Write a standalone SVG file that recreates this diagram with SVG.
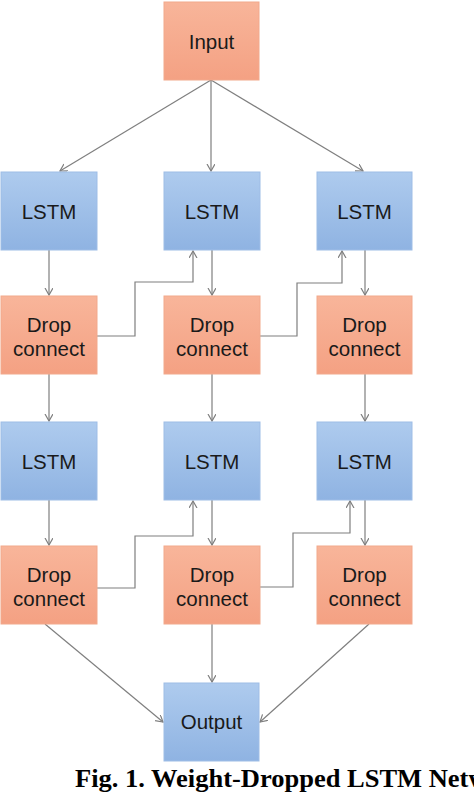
<svg xmlns="http://www.w3.org/2000/svg" width="474" height="792" viewBox="0 0 474 792">
<defs>
<linearGradient id="gO" x1="0" y1="0" x2="0" y2="1"><stop offset="0" stop-color="#f8b59a"/><stop offset="1" stop-color="#f4a183"/></linearGradient>
<linearGradient id="gB" x1="0" y1="0" x2="0" y2="1"><stop offset="0" stop-color="#aecbee"/><stop offset="1" stop-color="#8fb3e2"/></linearGradient>
<marker id="ah" markerWidth="10" markerHeight="10" refX="7" refY="4" orient="auto" markerUnits="userSpaceOnUse"><path d="M0,0 L7,4 L0,8" fill="none" stroke="#7f7f7f" stroke-width="1.2"/></marker>
</defs>
<style>
.o{fill:url(#gO);stroke:#f2a98c;stroke-width:1}
.b{fill:url(#gB);stroke:#9ebde6;stroke-width:1}
.t{font-family:"Liberation Sans",Arial,sans-serif;font-size:20.5px;fill:#1a1a1a;text-anchor:middle}
.c{fill:none;stroke:#7f7f7f;stroke-width:1.2}
.a{marker-end:url(#ah)}
.cap{font-family:"Liberation Serif","Times New Roman",serif;font-size:25px;font-weight:bold;fill:#000}
</style>
<rect width="474" height="792" fill="#ffffff"/>
<g id="connectors">
<line class="c a" x1="211" y1="80" x2="60" y2="171"/>
<line class="c a" x1="211" y1="80" x2="211" y2="171"/>
<line class="c a" x1="211" y1="80" x2="363" y2="171"/>
<line class="c a" x1="49" y1="250" x2="49" y2="295"/>
<line class="c a" x1="212" y1="250" x2="212" y2="295"/>
<line class="c a" x1="365" y1="250" x2="365" y2="295"/>
<polyline class="c a" points="97,336 135,336 135,282 193,282 193,251"/>
<polyline class="c a" points="260,336 297,336 297,283 342,283 342,251"/>
<line class="c a" x1="49" y1="374" x2="49" y2="421"/>
<line class="c a" x1="212" y1="374" x2="212" y2="421"/>
<line class="c a" x1="365" y1="374" x2="365" y2="421"/>
<line class="c a" x1="49" y1="500" x2="49" y2="545"/>
<line class="c a" x1="212" y1="500" x2="212" y2="545"/>
<line class="c a" x1="365" y1="500" x2="365" y2="545"/>
<polyline class="c a" points="97,588 135,588 135,536 193,536 193,501"/>
<polyline class="c a" points="254,587 293,587 293,533 350,533 350,501"/>
<line class="c a" x1="45" y1="624" x2="163" y2="722"/>
<line class="c a" x1="212" y1="624" x2="212" y2="682"/>
<line class="c a" x1="369" y1="624" x2="260" y2="722"/>
</g>
<g id="input"><rect class="o" x="164" y="2" width="95" height="78"/><text class="t" x="211.5" y="49">Input</text></g>
<g id="lstm11"><rect class="b" x="1" y="172" width="96" height="78"/><text class="t" x="49" y="219">LSTM</text></g>
<g id="lstm12"><rect class="b" x="164" y="172" width="96" height="78"/><text class="t" x="212" y="219">LSTM</text></g>
<g id="lstm13"><rect class="b" x="317" y="172" width="95" height="78"/><text class="t" x="364.5" y="219">LSTM</text></g>
<g id="drop11"><rect class="o" x="1" y="296" width="96" height="78"/><text class="t" x="49" y="332">Drop</text><text class="t" x="49" y="356">connect</text></g>
<g id="drop12"><rect class="o" x="164" y="296" width="96" height="78"/><text class="t" x="212" y="332">Drop</text><text class="t" x="212" y="356">connect</text></g>
<g id="drop13"><rect class="o" x="317" y="296" width="95" height="78"/><text class="t" x="364.5" y="332">Drop</text><text class="t" x="364.5" y="356">connect</text></g>
<g id="lstm21"><rect class="b" x="1" y="422" width="96" height="78"/><text class="t" x="49" y="469">LSTM</text></g>
<g id="lstm22"><rect class="b" x="164" y="422" width="96" height="78"/><text class="t" x="212" y="469">LSTM</text></g>
<g id="lstm23"><rect class="b" x="317" y="422" width="95" height="78"/><text class="t" x="364.5" y="469">LSTM</text></g>
<g id="drop21"><rect class="o" x="1" y="546" width="96" height="78"/><text class="t" x="49" y="582">Drop</text><text class="t" x="49" y="606">connect</text></g>
<g id="drop22"><rect class="o" x="164" y="546" width="96" height="78"/><text class="t" x="212" y="582">Drop</text><text class="t" x="212" y="606">connect</text></g>
<g id="drop23"><rect class="o" x="317" y="546" width="95" height="78"/><text class="t" x="364.5" y="582">Drop</text><text class="t" x="364.5" y="606">connect</text></g>
<g id="output"><rect class="b" x="164" y="683" width="95" height="78"/><text class="t" x="211.5" y="729">Output</text></g>
<text class="cap" transform="translate(75,787) scale(1.06,1)">Fig. 1. Weight-Dropped LSTM Network</text>
</svg>
